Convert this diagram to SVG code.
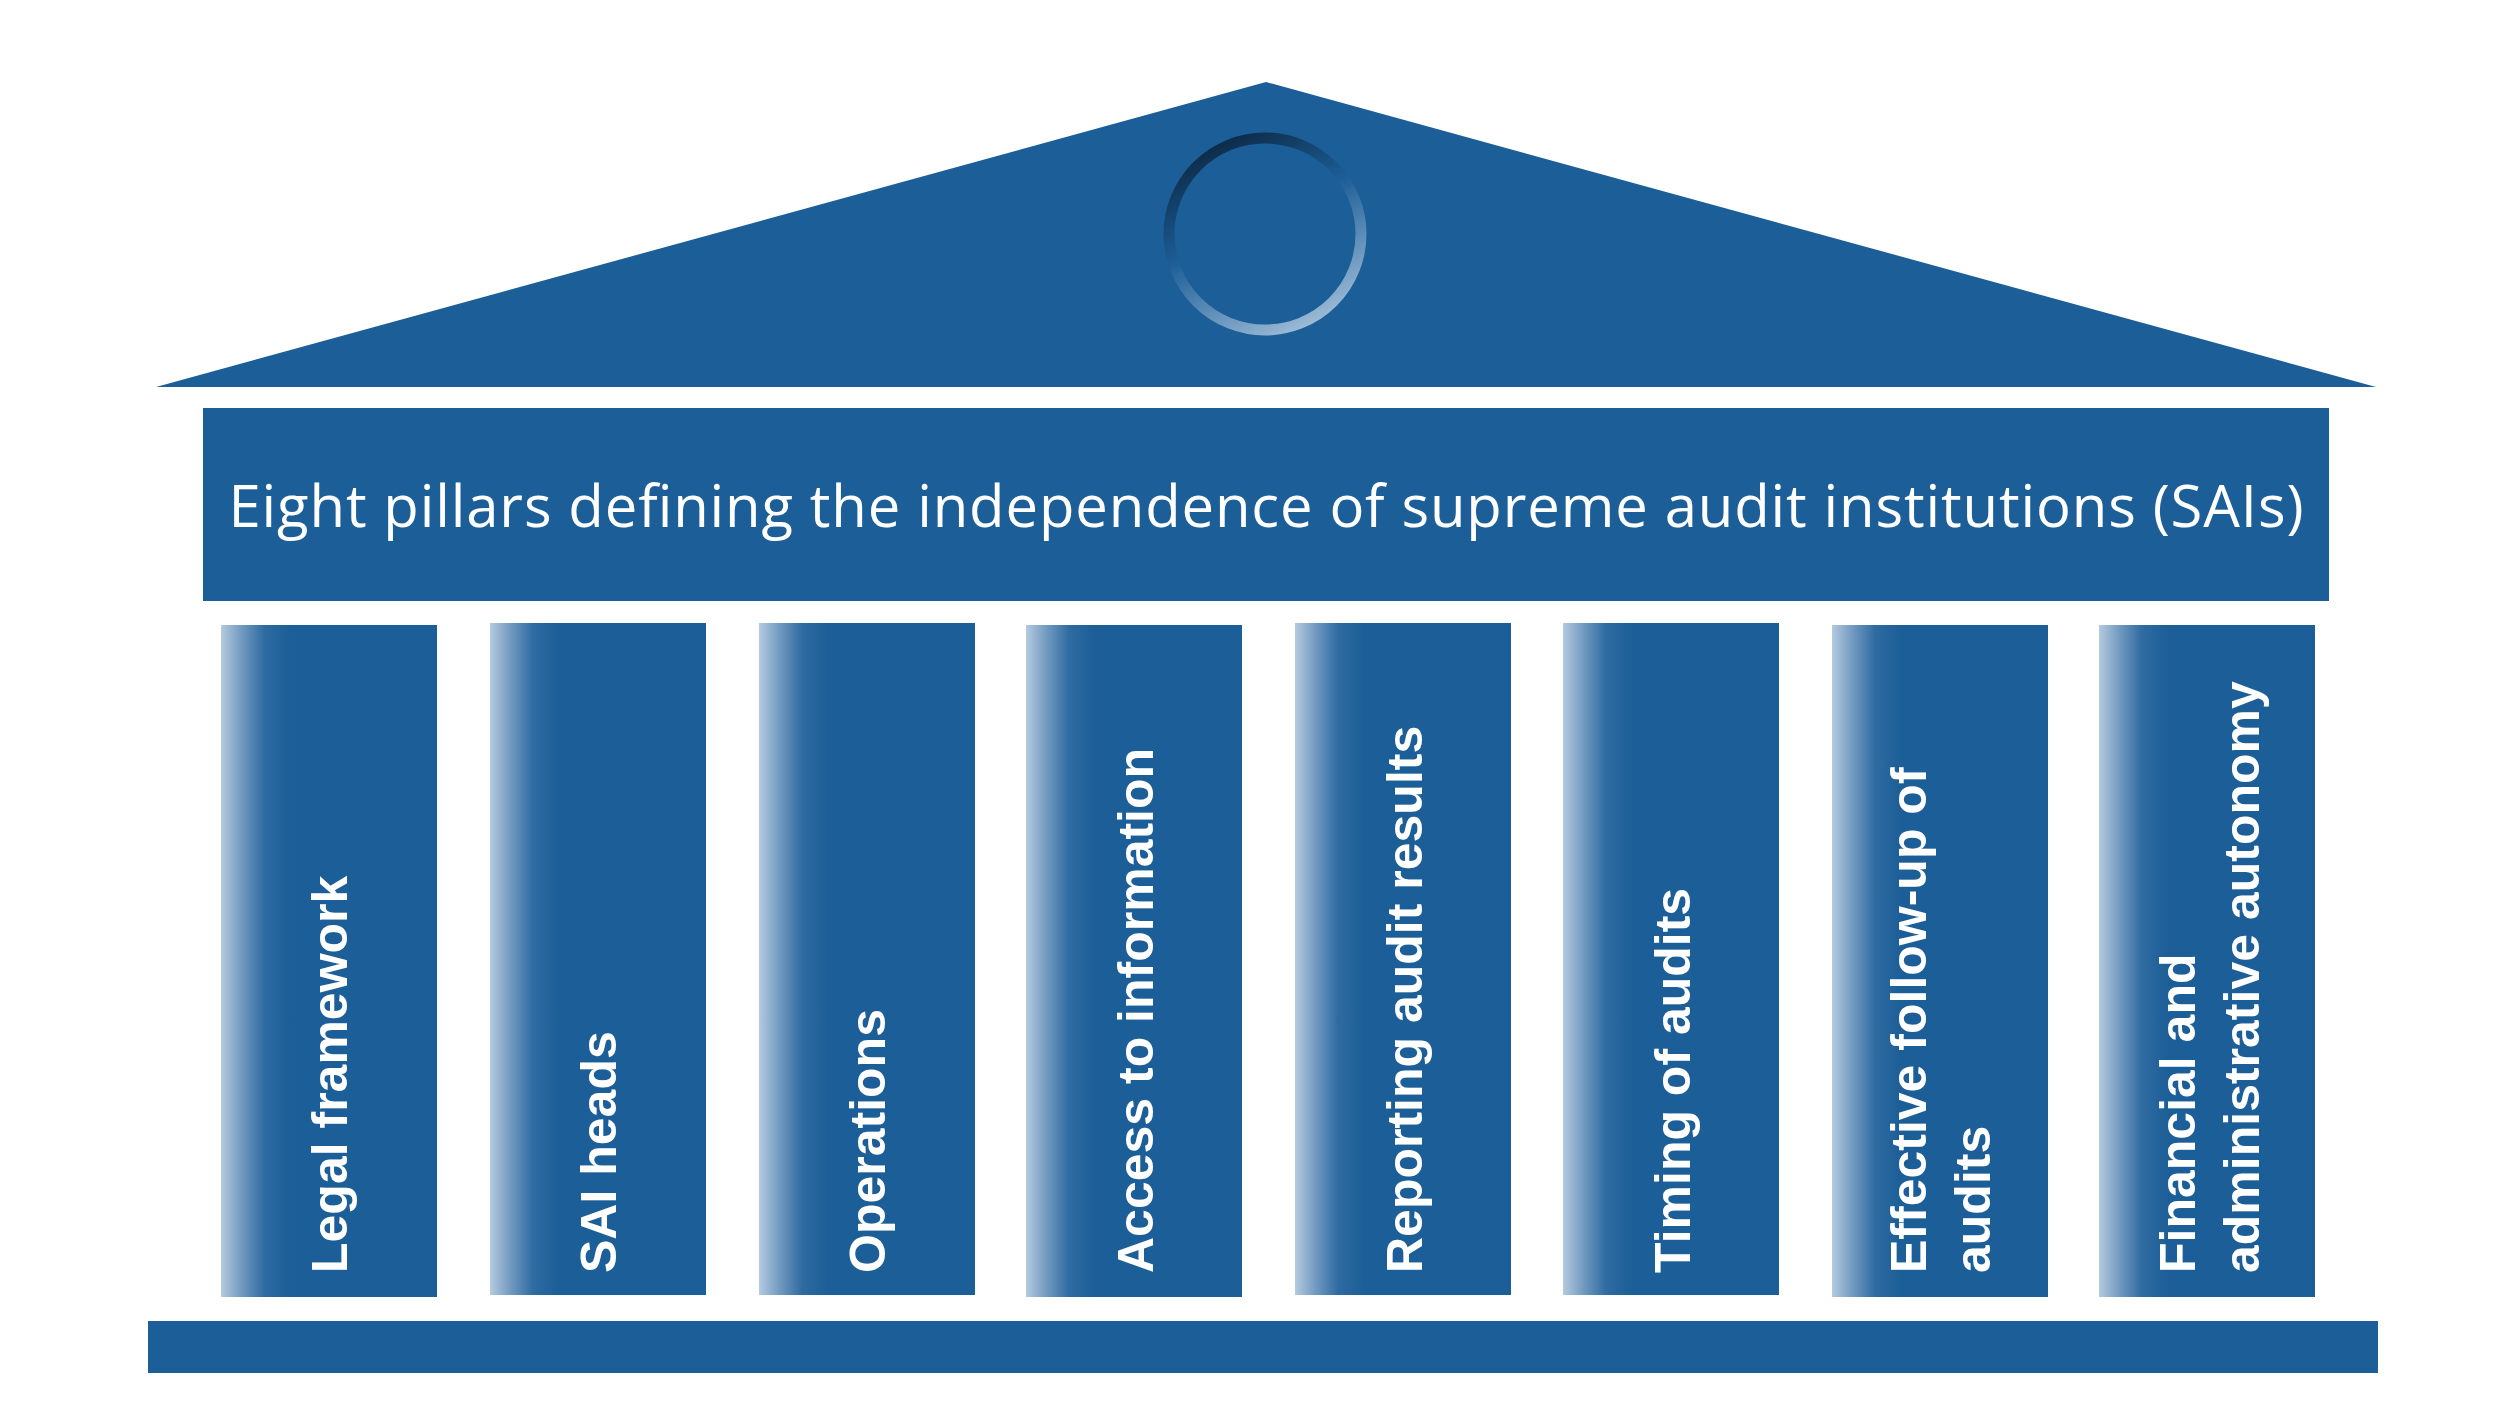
<svg xmlns="http://www.w3.org/2000/svg" width="2500" height="1406" viewBox="0 0 2500 1406">
<defs>
<linearGradient id="pg" x1="0" y1="0" x2="1" y2="0">
<stop offset="0" stop-color="#b4cadf"/>
<stop offset="0.1" stop-color="#6f98bf"/>
<stop offset="0.2" stop-color="#2e6ba1"/>
<stop offset="0.32" stop-color="#1c5e97"/>
<stop offset="1" stop-color="#1c5e97"/>
</linearGradient>
<linearGradient id="rg" x1="0.2" y1="0" x2="0.7" y2="1">
<stop offset="0" stop-color="#0c2640"/>
<stop offset="0.45" stop-color="#1c5e97"/>
<stop offset="1" stop-color="#9dbbd6"/>
</linearGradient>
<style>
.b{fill:#1c5e97}
.p{fill:url(#pg)}
.t{font-family:"Liberation Sans Narrow","Liberation Sans",sans-serif;font-weight:bold;font-size:50px;fill:#fff}
</style>
</defs>
<g id="roof">
<polygon class="b" points="1266,82 2376,387 156,387"/>
<circle cx="1265" cy="234" r="96" fill="none" stroke="url(#rg)" stroke-width="11"/>
</g>
<g id="banner">
<rect class="b" x="203" y="408" width="2126" height="193"/>
<text x="1266" y="527" text-anchor="middle" font-family="Open Sans, sans-serif" font-size="58" fill="#fff" textLength="2075">Eight pillars defining the independence of supreme audit institutions (SAIs)</text>
</g>
<g id="p1"><rect class="p" x="221" y="625" width="216" height="672"/><text class="t" transform="translate(347,1273) rotate(-90)">Legal framework</text></g>
<g id="p2"><rect class="p" x="490" y="623" width="216" height="672"/><text class="t" transform="translate(616,1273) rotate(-90)">SAI heads</text></g>
<g id="p3"><rect class="p" x="759" y="623" width="216" height="672"/><text class="t" transform="translate(885,1273) rotate(-90)">Operations</text></g>
<g id="p4"><rect class="p" x="1026" y="625" width="216" height="672"/><text class="t" transform="translate(1153,1273) rotate(-90)">Access to information</text></g>
<g id="p5"><rect class="p" x="1295" y="623" width="216" height="672"/><text class="t" transform="translate(1422,1273) rotate(-90)">Reporting audit results</text></g>
<g id="p6"><rect class="p" x="1563" y="623" width="216" height="672"/><text class="t" transform="translate(1690,1273) rotate(-90)">Timing of audits</text></g>
<g id="p7"><rect class="p" x="1832" y="625" width="216" height="672"/><text class="t" transform="translate(1926,1273) rotate(-90)">Effective follow-up of<tspan x="0" dy="64">audits</tspan></text></g>
<g id="p8"><rect class="p" x="2099" y="625" width="216" height="672"/><text class="t" transform="translate(2195,1273) rotate(-90)">Financial and<tspan x="0" dy="64">administrative autonomy</tspan></text></g>
<g id="base"><rect class="b" x="148" y="1321" width="2230" height="52"/></g>
</svg>
